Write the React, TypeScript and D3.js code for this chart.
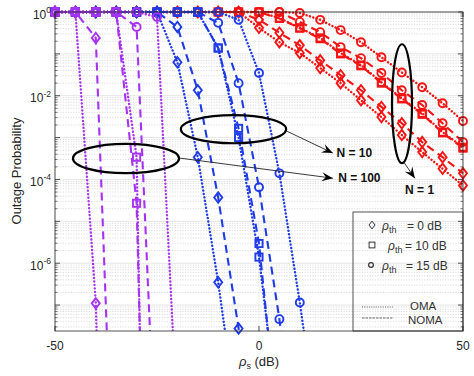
import React from 'react';
import * as d3 from 'd3';

// ---------- data ----------
const X_DB = [-50, -45, -40, -35, -30, -25, -20, -15, -10, -5, 0, 5, 10, 15, 20, 25, 30, 35, 40, 45, 50];
const X_TICKS = [-50, 0, 50];
const Y_TICK_EXP = [0, -2, -4, -6];
const Y_MIN = 2.4e-8;

// N = 100 (values beyond the first off-axis point are not needed)
const N100_D_OMA = [1, 1, 1.1e-7, 1e-24];
const N100_D_NOMA = [1, 1, 0.24, 2.5e-14];
const N100_S_OMA = [1, 1, 1, 1, 3.4e-4, 3e-30];
const N100_S_NOMA = [1, 1, 1, 1, 2.7e-5, 2e-24];
const N100_C_OMA = [1, 1, 1, 1, 1, 0.76, 1.6e-10];
const N100_C_NOMA = [1, 1, 1, 1, 0.44, 4e-12];

// N = 10
const N10_D_OMA = [1, 1, 1, 1, 1, 1, 0.063, 3.4e-4, 3.5e-7, 1.1e-10];
const N10_D_NOMA = [1, 1, 1, 1, 1, 1, 0.44, 0.0135, 3.7e-5, 2.75e-8, 1e-11];
const N10_S_OMA = [1, 1, 1, 1, 1, 1, 1, 1, 0.138, 1.0e-3, 1.4e-6, 1.3e-10];
const N10_S_NOMA = [1, 1, 1, 1, 1, 1, 1, 1, 0.138, 1.66e-3, 2.95e-6, 5e-11];
const N10_C_OMA = [1, 1, 1, 1, 1, 1, 1, 1, 1, 0.65, 0.035, 1.4e-4, 1.15e-7, 4e-11];
const N10_C_NOMA = [1, 1, 1, 1, 1, 1, 1, 1, 0.55, 0.02, 6.5e-5, 4.6e-8, 5e-12];

// N = 1
const N1_D_OMA = [1, 1, 1, 1, 1, 1, 1, 1, 1, 1, 0.42, 0.19, 0.105, 0.046, 0.02, 7.8e-3, 3.1e-3, 1.15e-3, 4.5e-4, 1.8e-4, 7.2e-5];
const N1_D_NOMA = [1, 1, 1, 1, 1, 1, 1, 1, 1, 1, 0.65, 0.32, 0.16, 0.07, 0.031, 0.0135, 5.4e-3, 2.2e-3, 7.8e-4, 3.4e-4, 1.4e-4];
const N1_S_OMA = [1, 1, 1, 1, 1, 1, 1, 1, 1, 1, 1, 0.72, 0.42, 0.24, 0.105, 0.054, 0.021, 8.7e-3, 3.8e-3, 1.35e-3, 5.9e-4];
const N1_S_NOMA = [1, 1, 1, 1, 1, 1, 1, 1, 1, 1, 1, 0.7, 0.41, 0.23, 0.1, 0.052, 0.02, 8.4e-3, 3.6e-3, 1.3e-3, 5.6e-4];
const N1_C_OMA = [1, 1, 1, 1, 1, 1, 1, 1, 1, 1, 1, 1, 0.95, 0.65, 0.37, 0.19, 0.083, 0.036, 0.016, 6.6e-3, 2.5e-3];
const N1_C_NOMA = [1, 1, 1, 1, 1, 1, 1, 1, 1, 1, 1, 1, 0.58, 0.33, 0.145, 0.079, 0.035, 0.0135, 6e-3, 2.2e-3, 7.8e-4];

const COLORS = { n1: '#f51414', n10: '#1f3be8', n100: '#a632f2' };

type Mk = 'd' | 's' | 'c';
type Series = { vals: number[]; color: string; oma: boolean; mk: Mk };

// drawing order: N=1, N=10, N=100
const SERIES: Series[] = [
  { vals: N1_D_OMA, color: COLORS.n1, oma: true, mk: 'd' },
  { vals: N1_D_NOMA, color: COLORS.n1, oma: false, mk: 'd' },
  { vals: N1_S_OMA, color: COLORS.n1, oma: true, mk: 's' },
  { vals: N1_S_NOMA, color: COLORS.n1, oma: false, mk: 's' },
  { vals: N1_C_OMA, color: COLORS.n1, oma: true, mk: 'c' },
  { vals: N1_C_NOMA, color: COLORS.n1, oma: false, mk: 'c' },
  { vals: N10_D_OMA, color: COLORS.n10, oma: true, mk: 'd' },
  { vals: N10_D_NOMA, color: COLORS.n10, oma: false, mk: 'd' },
  { vals: N10_S_OMA, color: COLORS.n10, oma: true, mk: 's' },
  { vals: N10_S_NOMA, color: COLORS.n10, oma: false, mk: 's' },
  { vals: N10_C_OMA, color: COLORS.n10, oma: true, mk: 'c' },
  { vals: N10_C_NOMA, color: COLORS.n10, oma: false, mk: 'c' },
  { vals: N100_D_OMA, color: COLORS.n100, oma: true, mk: 'd' },
  { vals: N100_D_NOMA, color: COLORS.n100, oma: false, mk: 'd' },
  { vals: N100_S_OMA, color: COLORS.n100, oma: true, mk: 's' },
  { vals: N100_S_NOMA, color: COLORS.n100, oma: false, mk: 's' },
  { vals: N100_C_OMA, color: COLORS.n100, oma: true, mk: 'c' },
  { vals: N100_C_NOMA, color: COLORS.n100, oma: false, mk: 'c' },
];

// annotations in data coordinates (dB, log10 P)
const ELLIPSES = [
  { cx: -32.6, cy: -3.5, rx: 13, ry: 0.35 },
  { cx: -6.25, cy: -2.8, rx: 12.9, ry: 0.335 },
  { cx: 35.05, cy: -2.19, rx: 2.45, ry: 1.42 },
];
const ARROWS = [
  { x1: 6.9, y1: -2.85, x2: 18.1, y2: -3.37, label: 'N = 10', lx: 19, ly: -3.47 },
  { x1: -19.4, y1: -3.49, x2: 18.1, y2: -3.97, label: 'N = 100', lx: 19.4, ly: -4.07 },
  { x1: 35.3, y1: -3.56, x2: 38.2, y2: -3.97, label: 'N = 1', lx: 35.8, ly: -4.35 },
];

const FONT = 'Liberation Sans, Arial, Helvetica, sans-serif';
const AX = '#262626';

const L = 55, R = 463, T = 12, B = 331;

export default function App() {
  const x = d3.scaleLinear().domain([-50, 50]).range([L, R]);
  const y = d3.scaleLog().domain([Y_MIN, 1]).range([B, T]);
  const yl = (e: number) => y(Math.pow(10, e));

  const line = d3
    .line<[number, number]>()
    .x((d) => x(d[0]))
    .y((d) => y(d[1]));

  const gridMajor: number[] = [];
  const gridMinor: number[] = [];
  for (let k = -8; k <= 0; k++) {
    for (let m = 1; m <= 9; m++) {
      const v = m * Math.pow(10, k);
      if (v < Y_MIN || v > 1) continue;
      if (m === 1) gridMajor.push(v);
      else gridMinor.push(v);
    }
  }

  const marker = (mk: Mk, cx: number, cy: number, color: string, key: string, sw = 1.9, sc = 1) => {
    if (mk === 'd')
      return (
        <path key={key} d={`M${cx},${cy - 5.2 * sc}L${cx + 4 * sc},${cy}L${cx},${cy + 5.2 * sc}L${cx - 4 * sc},${cy}Z`} fill="none" stroke={color} strokeWidth={sw} />
      );
    if (mk === 's')
      return <rect key={key} x={cx - 3.6 * sc} y={cy - 3.6 * sc} width={7.2 * sc} height={7.2 * sc} fill="none" stroke={color} strokeWidth={sw} />;
    return <circle key={key} cx={cx} cy={cy} r={4 * sc} fill="none" stroke={color} strokeWidth={sw} />;
  };

  const arrowHead = (x1: number, y1: number, x2: number, y2: number) => {
    const ang = Math.atan2(y2 - y1, x2 - x1);
    const len = 11, hw = 4.5, notch = 7;
    const ca = Math.cos(ang), sa = Math.sin(ang);
    const p = (a: number, b: number) => `${x2 + a * ca - b * sa},${y2 + a * sa + b * ca}`;
    return `M${p(0, 0)}L${p(-len, hw)}L${p(-notch, 0)}L${p(-len, -hw)}Z`;
  };

  return (
    <svg width={474} height={376} style={{ position: 'absolute', left: 0, top: 0, background: '#fff' }} fontFamily={FONT}>
      <defs>
        <clipPath id="plotclip">
          <rect x={L - 2} y={T - 3} width={R - L + 4} height={B - T + 3} />
        </clipPath>
      </defs>
      <rect x={0} y={0} width={474} height={376} fill="#fff" />
      {/* grid */}
      {gridMinor.map((v, i) => (
        <line key={'gm' + i} x1={L} x2={R} y1={y(v)} y2={y(v)} stroke="#c4c4c4" strokeWidth={0.6} strokeDasharray="1.2,1.4" />
      ))}
      {gridMajor.map((v, i) => (
        <line key={'gM' + i} x1={L} x2={R} y1={y(v)} y2={y(v)} stroke="#dadada" strokeWidth={0.7} />
      ))}
      {X_TICKS.map((t) => (
        <line key={'gx' + t} x1={x(t)} x2={x(t)} y1={T} y2={B} stroke="#e6e6e6" strokeWidth={0.7} />
      ))}

      {/* series */}
      {SERIES.map((s, si) => {
        const pts: [number, number][] = [];
        s.vals.forEach((v, i) => pts.push([X_DB[i], v]));
        return (
          <g key={'s' + si}>
            <path
              d={line(pts) || ''}
              fill="none"
              stroke={s.color}
              strokeWidth={s.oma ? 2.4 : 2.1}
              clipPath="url(#plotclip)"
              strokeDasharray={s.oma ? '0.1,3.4' : '8,5'}
              strokeLinecap={s.oma ? 'round' : 'butt'}
            />
            {pts
              .filter((p) => p[1] >= Y_MIN)
              .map((p, i) => marker(s.mk, x(p[0]), y(p[1]), s.color, 'm' + i))}
          </g>
        );
      })}

      {/* axes box */}
      <rect x={L} y={T} width={R - L} height={B - T} fill="none" stroke={AX} strokeWidth={0.8} />
      {/* y ticks */}
      {d3.range(-7, 1).map((e) => (
        <g key={'yt' + e}>
          <line x1={L} x2={L + 5} y1={yl(e)} y2={yl(e)} stroke={AX} strokeWidth={0.8} />
          <line x1={R} x2={R - 5} y1={yl(e)} y2={yl(e)} stroke={AX} strokeWidth={0.8} />
        </g>
      ))}
      {gridMinor.map((v, i) => (
        <g key={'ymt' + i}>
          <line x1={L} x2={L + 2.5} y1={y(v)} y2={y(v)} stroke={AX} strokeWidth={0.6} />
          <line x1={R} x2={R - 2.5} y1={y(v)} y2={y(v)} stroke={AX} strokeWidth={0.6} />
        </g>
      ))}
      {X_TICKS.map((t) => (
        <g key={'xt' + t}>
          <line x1={x(t)} x2={x(t)} y1={B} y2={B - 5} stroke={AX} strokeWidth={0.8} />
          <line x1={x(t)} x2={x(t)} y1={T} y2={T + 5} stroke={AX} strokeWidth={0.8} />
          <text x={x(t)} y={350} textAnchor="middle" fontSize={12} fill={AX}>
            {t}
          </text>
        </g>
      ))}
      {Y_TICK_EXP.map((e) => (
        <text key={'yl' + e} x={51} y={yl(e) + 6.5} textAnchor="end" fontSize={12} fill={AX}>
          10
          <tspan dy={-5.5} fontSize={8.5}>
            {e}
          </tspan>
        </text>
      ))}

      {/* axis labels */}
      <text transform="translate(21,171) rotate(-90)" textAnchor="middle" fontSize={13} fill={AX}>
        Outage Probability
      </text>
      <text x={259} y={366} textAnchor="middle" fontSize={13} fill={AX}>
        <tspan fontStyle="italic">ρ</tspan>
        <tspan dy={3} fontSize={9}>
          s
        </tspan>
        <tspan dy={-3}> (dB)</tspan>
      </text>

      {/* annotations */}
      {ELLIPSES.map((e, i) => (
        <ellipse
          key={'e' + i}
          cx={x(e.cx)}
          cy={yl(e.cy)}
          rx={x(e.cx + e.rx) - x(e.cx)}
          ry={yl(e.cy - e.ry) - yl(e.cy)}
          fill="none"
          stroke="#000"
          strokeWidth={2.2}
        />
      ))}
      {ARROWS.map((a, i) => {
        const X1 = x(a.x1), Y1 = yl(a.y1), X2 = x(a.x2), Y2 = yl(a.y2);
        return (
          <g key={'a' + i}>
            <line x1={X1} y1={Y1} x2={X2} y2={Y2} stroke="#222" strokeWidth={0.9} />
            <path d={arrowHead(X1, Y1, X2, Y2)} fill="#000" />
            <text x={x(a.lx)} y={yl(a.ly)} fontSize={12} fontWeight="bold" fill="#111">
              {a.label}
            </text>
          </g>
        );
      })}

      {/* legend */}
      <rect x={353} y={212} width={110} height={119} fill="none" stroke={AX} strokeWidth={0.8} />
      {marker('d', 372, 225, '#333', 'lg1', 1, 0.75)}
      <text x={382} y={230} fontSize={12} fill="#333">
        <tspan fontStyle="italic">ρ</tspan>
        <tspan dy={3} fontSize={9}>th</tspan>
      </text>
      <text x={407} y={230} fontSize={12} fill="#333">= 0 dB</text>
      {marker('s', 372, 245, '#333', 'lg2', 1, 0.8)}
      <text x={388} y={250} fontSize={12} fill="#333">
        <tspan fontStyle="italic">ρ</tspan>
        <tspan dy={3} fontSize={9}>th</tspan>
      </text>
      <text x={405} y={250} fontSize={12} fill="#333">= 10 dB</text>
      {marker('c', 371, 265, '#333', 'lg3', 1.2, 0.6)}
      <text x={382} y={270} fontSize={12} fill="#333">
        <tspan fontStyle="italic">ρ</tspan>
        <tspan dy={3} fontSize={9}>th</tspan>
      </text>
      <text x={406} y={270} fontSize={12} fill="#333">= 15 dB</text>
      <line x1={362} x2={393} y1={307} y2={307} stroke="#444" strokeWidth={0.8} strokeDasharray="1,1.3" />
      <text x={410} y={309.5} fontSize={11.5} fill="#333">OMA</text>
      <line x1={362} x2={393} y1={318} y2={318} stroke="#444" strokeWidth={0.8} strokeDasharray="2.5,1" />
      <text x={408} y={323.5} fontSize={11.5} fill="#333">NOMA</text>
    </svg>
  );
}
